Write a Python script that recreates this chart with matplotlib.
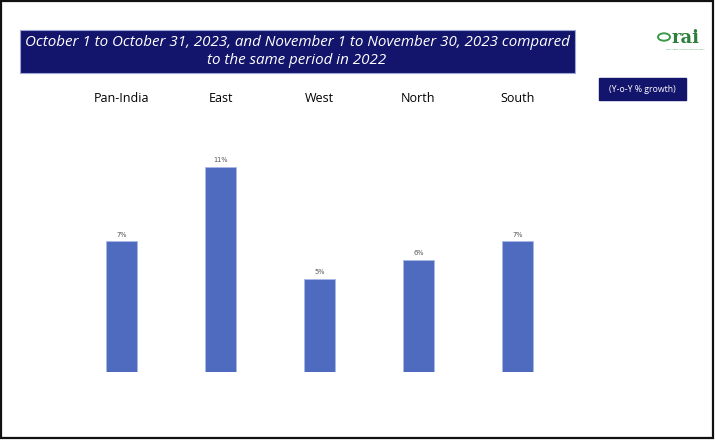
import matplotlib.pyplot as plt
from matplotlib.patches import Rectangle, Circle
import matplotlib.transforms as mtransforms

# data
regions = ["Pan-India", "East", "West", "North", "South"]
growth = [7, 11, 5, 6, 7]
value_labels = ["7%", "11%", "5%", "6%", "7%"]
title_lines = ["October 1 to October 31, 2023, and November 1 to November 30, 2023 compared",
               "to the same period in 2022"]
unit_label = "(Y-o-Y % growth)"

W, H = 715, 440
fig = plt.figure(figsize=(W / 100, H / 100), dpi=100)
fig.patch.set_facecolor("white")

def fx(px):
    return px / W

def fy(py):
    # pixel from top -> figure fraction
    return 1 - py / H

# outer black frame
fig.add_artist(Rectangle((fx(1), fy(438)), fx(712), 437 / H, transform=fig.transFigure,
                         fill=False, edgecolor="#111111", linewidth=1.6))

# title box
fig.add_artist(Rectangle((fx(20), fy(73)), fx(555), 43 / H, transform=fig.transFigure,
                         facecolor="#13146b", edgecolor="#9ea6d8", linewidth=0.8))
fig.text(fx(297), fy(43), title_lines[0], color="white", fontsize=10.9, style="italic",
         family="Open Sans", ha="center", va="center")
fig.text(fx(297), fy(61), title_lines[1], color="white", fontsize=10.9, style="italic",
         family="Open Sans", ha="center", va="center")

# unit label box
fig.add_artist(Rectangle((fx(599), fy(100)), fx(87), 22 / H, transform=fig.transFigure,
                         facecolor="#13146b", edgecolor="#13146b"))
fig.text(fx(642.5), fy(89), unit_label, color="white", fontsize=6.3,
         family="Open Sans", ha="center", va="center")

# logo (rough)
fig.add_artist(Circle((fx(664), fy(37)), 6 / W, transform=fig.transFigure,
                      facecolor="none", edgecolor="#3a9a4a", linewidth=1.4))
fig.text(fx(671), fy(38), "rai", color="#2f7f3c", fontsize=13, weight="bold",
         family="DejaVu Serif", ha="left", va="center")
fig.text(fx(685), fy(49), "RETAILERS ASSOCIATION OF INDIA", color="#3a9a4a", fontsize=1.6,
         ha="center", va="center")

# bars
ax = fig.add_axes([fx(72), 68 / H, fx(495), 223.8 / H])
x = range(len(regions))
ax.bar(x, growth, width=0.31, color="#4f6bbf", edgecolor="#a9b8e6", linewidth=0.6)
for xi, v, lab in zip(x, growth, value_labels):
    ax.text(xi, v + 0.2, lab, ha="center", va="bottom", fontsize=4.8, color="#555555")
ax.set_xlim(-0.5, 4.5)
ax.set_ylim(0, 12)
ax.axis("off")

# category labels above the plot
trans = mtransforms.blended_transform_factory(ax.transData, fig.transFigure)
for xi, name in zip(x, regions):
    ax.text(xi, fy(99), name, transform=trans, ha="center", va="center",
            fontsize=9, family="Open Sans", color="black")

fig.savefig("out.png", dpi=100)
